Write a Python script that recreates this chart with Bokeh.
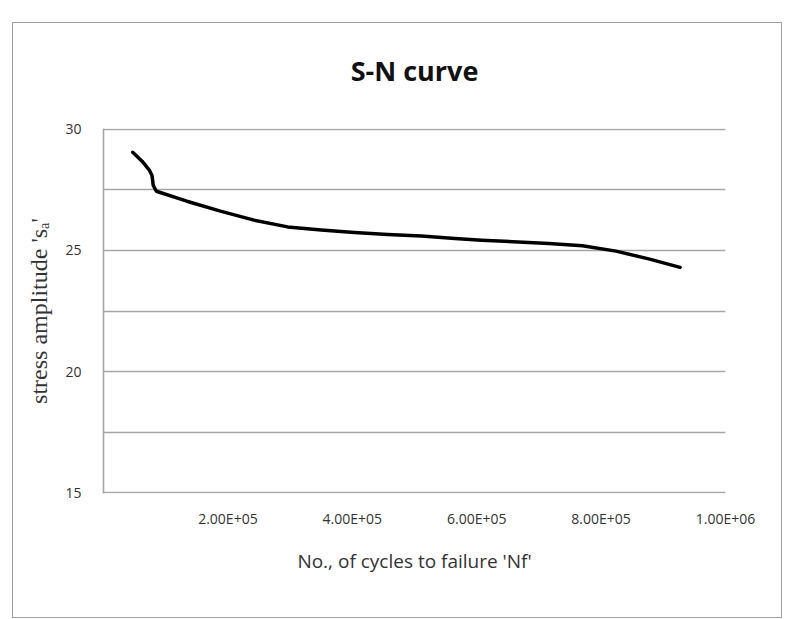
from bokeh.plotting import figure
from bokeh.models import FixedTicker, Title
from bokeh.embed import file_html
from bokeh.resources import INLINE

# ---- data ----
cycles = [47e3, 62e3, 74e3, 78e3, 80e3, 85e3, 134e3, 188e3, 242e3, 296e3, 350e3,
          403e3, 457e3, 511e3, 565e3, 608e3, 716e3, 770e3, 824e3, 878e3, 927e3]
stress = [29.05, 28.68, 28.30, 28.09, 27.68, 27.44, 27.03, 26.62, 26.25, 25.97, 25.84,
          25.74, 25.66, 25.59, 25.49, 25.42, 25.29, 25.19, 24.97, 24.64, 24.30]
x_ticks = [2e5, 4e5, 6e5, 8e5, 1e6]
x_tick_labels = ["2.00E+05", "4.00E+05", "6.00E+05", "8.00E+05", "1.00E+06"]
y_ticks = [15, 20, 25, 30]
y_minor = [17.5, 22.5, 27.5]

title_text = "S-N curve"
x_label = "No., of cycles to failure 'Nf'"
y_label = "stress amplitude 'sₐ'"

FONT = "Open Sans"
GRID = "#a6a6a6"

p = figure(frame_width=622, frame_height=365,
           min_border_left=90, min_border_right=56, min_border_top=105, min_border_bottom=124,
           x_range=(0, 1e6), y_range=(14.97, 30.03),
           output_backend="svg", toolbar_location=None,
           margin=(22, 0, 0, 12),
           styles={"border": "1px solid #a0a0a0", "box-sizing": "border-box"})
p.title = None
t = Title(text=title_text, align="center", text_font=FONT, text_font_size="27px",
          text_font_style="bold", text_color="#111111", standoff=0,
          vertical_align="top", padding=dict(left=0, right=0, top=0, bottom=38))
p.add_layout(t, "above")

p.outline_line_color = None
p.background_fill_color = "white"
p.border_fill_color = "white"

# grids
p.xgrid.grid_line_color = None
p.ygrid.grid_line_color = GRID
p.ygrid.grid_line_width = 1.6
p.ygrid.minor_grid_line_color = GRID
p.ygrid.minor_grid_line_width = 1.6

# y axis
p.yaxis.ticker = FixedTicker(ticks=y_ticks, minor_ticks=y_minor)
p.yaxis.axis_line_color = GRID
p.yaxis.axis_line_width = 1.6
p.yaxis.major_tick_line_color = None
p.yaxis.minor_tick_line_color = None
p.yaxis.major_label_standoff = 16
p.yaxis.major_label_text_font = FONT
p.yaxis.major_label_text_font_size = "14px"
p.yaxis.major_label_text_color = "#333333"
p.yaxis.axis_label = y_label
p.yaxis.axis_label_text_font = "Liberation Serif"
p.yaxis.axis_label_text_font_size = "24px"
p.yaxis.axis_label_text_font_style = "normal"
p.yaxis.axis_label_text_color = "#333333"
p.yaxis.axis_label_standoff = 10

# x axis
p.xaxis.ticker = FixedTicker(ticks=x_ticks)
p.xaxis.major_label_overrides = {tk: lb for tk, lb in zip(x_ticks, x_tick_labels)}
p.xaxis.axis_line_color = None
p.xaxis.major_tick_line_color = None
p.xaxis.minor_tick_line_color = None
p.xaxis.major_label_standoff = 9
p.xaxis.major_label_text_font = FONT
p.xaxis.major_label_text_font_size = "14px"
p.xaxis.major_label_text_color = "#333333"

xt = Title(text=x_label, align="center", text_font=FONT, text_font_size="19px",
           text_font_style="normal", text_color="#333333", standoff=30)
p.add_layout(xt, "below")

p.line(cycles, stress, line_color="black", line_width=3.5, line_join="round", line_cap="round")

open("out.html", "w").write(file_html(p, INLINE))
